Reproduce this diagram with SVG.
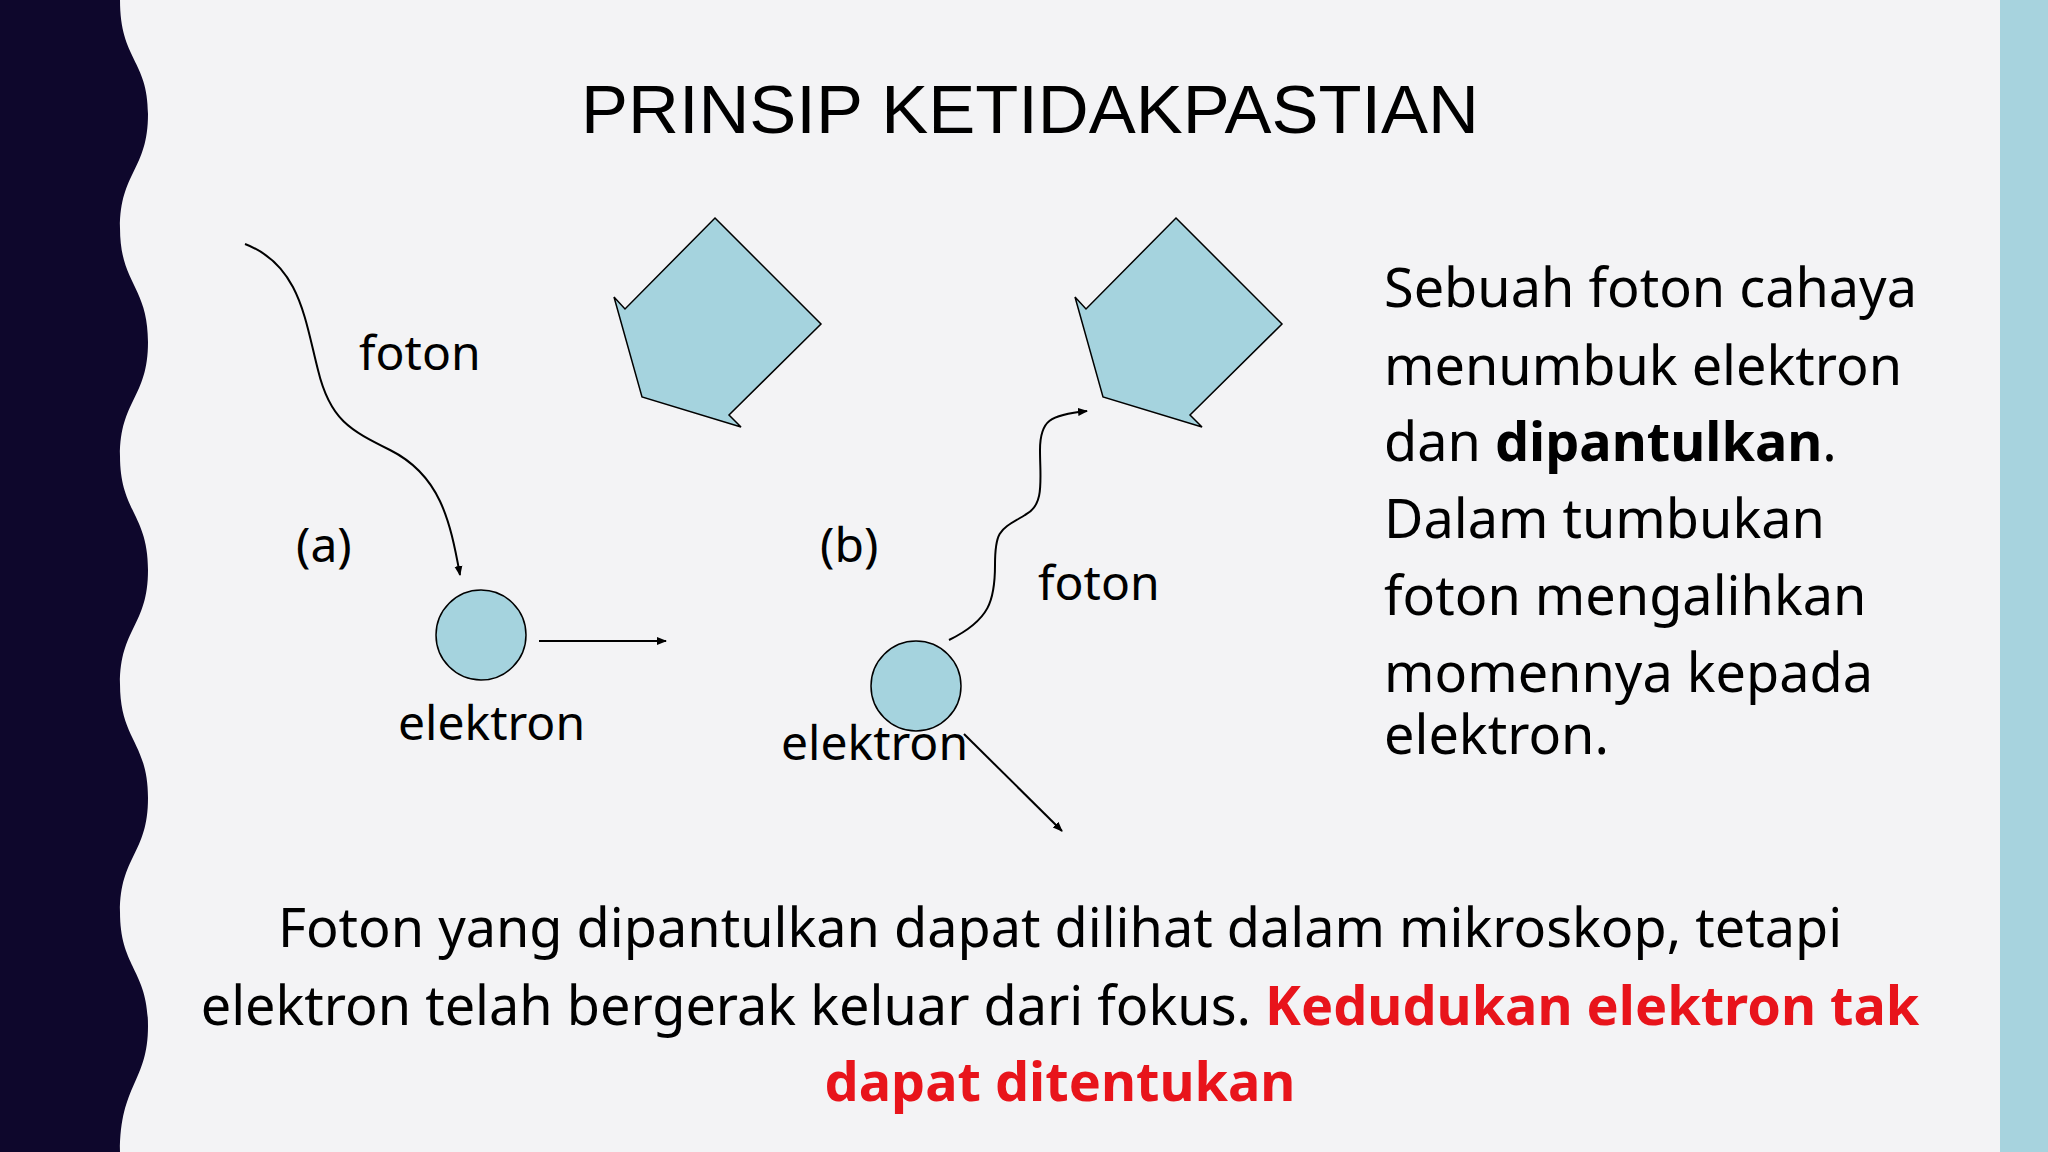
<svg xmlns="http://www.w3.org/2000/svg" width="2048" height="1152" viewBox="0 0 2048 1152">
<style>
.t{font-family:"Noto Sans","Open Sans",sans-serif;fill:#000}
.s{font-size:48px}
.m{font-size:54px}
.ln{fill:none;stroke:#000;stroke-width:2}
.sh{fill:#A5D3DE;stroke:#000;stroke-width:1.5}
</style>
<defs><marker id="ah" markerWidth="10" markerHeight="10" refX="9" refY="5" orient="auto" markerUnits="userSpaceOnUse"><path d="M0,1 L10,5 L0,9 Z" fill="#000"/></marker></defs>
<rect width="2048" height="1152" fill="#F3F3F5"/>
<path d="M0,0 H120 C120,60 148,60 148,114 C148,170 120,172 120,228 C120,284 148,286 148,342 C148,398 120,400 120,456 C120,512 148,514 148,570 C148,626 120,628 120,684 C120,740 148,742 148,798 C148,854 120,856 120,912 C120,968 148,970 148,1026 C148,1082 120,1084 120,1152 H0 Z" fill="#0E072C"/>
<rect x="2000" y="0" width="48" height="1152" fill="#A7D3DE"/>
<text x="1030" y="133" text-anchor="middle" font-family="Liberation Sans,sans-serif" font-size="68" textLength="898" lengthAdjust="spacingAndGlyphs">PRINSIP KETIDAKPASTIAN</text>
<g id="prism1"><polygon class="sh" points="715,218 821,324 729,415 741,427 642,397 614,297 625,309"/></g>
<g id="prism2"><polygon class="sh" points="1176,218 1282,324 1190,415 1202,427 1103,397 1075,297 1086,309"/></g>
<g id="electronA"><circle cx="481" cy="635" r="45" fill="#A5D3DE" stroke="#000" stroke-width="1.5"/></g>
<g id="electronB"><circle cx="916" cy="686" r="45" fill="#A5D3DE" stroke="#000" stroke-width="1.5"/></g>
<g id="connectors">
<path class="ln" marker-end="url(#ah)" d="M245,244 C300,265 305,320 318,370 C330,420 350,430 390,450 C440,475 450,520 460,575"/>
<line class="ln" x1="539" y1="641" x2="666" y2="641" marker-end="url(#ah)"/>
<path class="ln" marker-end="url(#ah)" d="M949,640 C990,620 995,600 995,565 C995,530 1000,530 1025,515 C1045,505 1040,480 1040,450 C1040,420 1050,415 1087,411"/>
<line class="ln" x1="964" y1="734" x2="1062" y2="831" marker-end="url(#ah)"/>
</g>
<g id="labels">
<text class="t s" x="359" y="370">foton</text>
<text class="t s" x="296" y="562">(a)</text>
<text class="t s" x="398" y="740">elektron</text>
<text class="t s" x="820" y="562">(b)</text>
<text class="t s" x="1038" y="600">foton</text>
<text class="t s" x="781" y="760">elektron</text>
</g>
<g id="desc" class="t m">
<text x="1384" y="307">Sebuah foton cahaya</text>
<text x="1384" y="385">menumbuk elektron</text>
<text x="1384" y="461">dan <tspan font-weight="bold">dipantulkan</tspan>.</text>
<text x="1384" y="538">Dalam tumbukan</text>
<text x="1384" y="615">foton mengalihkan</text>
<text x="1384" y="692">momennya kepada</text>
<text x="1384" y="754">elektron.</text>
</g>
<g id="bottom" class="t m" text-anchor="middle">
<text x="1060" y="947">Foton yang dipantulkan dapat dilihat dalam mikroskop, tetapi</text>
<text x="1060" y="1025">elektron telah bergerak keluar dari fokus. <tspan fill="#E8141B" font-weight="bold">Kedudukan elektron tak</tspan></text>
<text x="1060" y="1101" fill="#E8141B" font-weight="bold">dapat ditentukan</text>
</g>
</svg>
